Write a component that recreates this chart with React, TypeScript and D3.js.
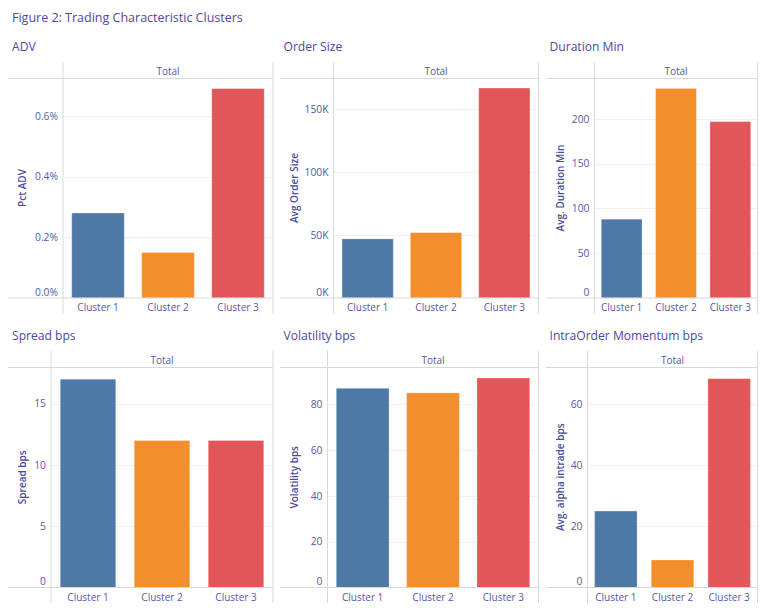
import React from 'react';
import * as d3 from 'd3';

const categories = ["Cluster 1", "Cluster 2", "Cluster 3"];
const barColors = ["#4e79a7", "#f28e2b", "#e15759"];
const figureTitle = "Figure 2: Trading Characteristic Clusters";
const headerLabel = "Total";

const panelTitles = ["ADV", "Order Size", "Duration Min", "Spread bps", "Volatility bps", "IntraOrder Momentum bps"];
const axisTitles = ["Pct ADV", "Avg Order Size", "Avg. Duration Min", "Spread bps", "Volatility bps", "Avg. alpha intrade bps"];

const advValues = [0.0028, 0.0015, 0.0069];
const orderSizeValues = [47000, 52000, 167000];
const durationValues = [88, 234, 197];
const spreadValues = [17, 12, 12];
const volatilityValues = [87, 85, 91.5];
const momentumValues = [25, 9, 68.3];

const advTicks = [0, 0.002, 0.004, 0.006];
const orderSizeTicks = [0, 50000, 100000, 150000];
const durationTicks = [0, 50, 100, 150, 200];
const spreadTicks = [0, 5, 10, 15];
const volatilityTicks = [0, 20, 40, 60, 80];
const momentumTicks = [0, 20, 40, 60];

const domainMax = [0.00725, 175000, 245.7, 18, 96.3, 72.1];

const fmtPct = (v: number) => d3.format(".1%")(v);
const fmtK = (v: number) => `${Math.round(v / 1000)}K`;
const fmtInt = (v: number) => d3.format("d")(v);

const seriesValues = [advValues, orderSizeValues, durationValues, spreadValues, volatilityValues, momentumValues];
const seriesTicks = [advTicks, orderSizeTicks, durationTicks, spreadTicks, volatilityTicks, momentumTicks];
const seriesFormats = [fmtPct, fmtK, fmtInt, fmtInt, fmtInt, fmtInt];

// layout
const rows = [
  { titleY: 47, headerTop: 62, headerLine: 78, axisY: 298, bottomExt: 314 },
  { titleY: 336, headerTop: 351, headerLine: 367, axisY: 587.5, bottomExt: 603 },
];
const colLeft = [8, 280, 546];
const colRight = [273, 538.5, 757.5];
const plotLeft = [[63, 333.5, 594.5], [51, 327.5, 587.5]];

const titleColor = "#4a4aa0";
const tickColor = "#5858a8";
const lineColor = "#d9d9d9";
const gridColor = "#f0f0f0";
const font = "'Open Sans', 'Noto Sans', sans-serif";

function Panel({ idx }: { idx: number }) {
  const r = Math.floor(idx / 3);
  const c = idx % 3;
  const row = rows[r];
  const left = colLeft[c];
  const right = colRight[c];
  const pl = plotLeft[r][c];
  const values = seriesValues[idx];
  const ticks = seriesTicks[idx];
  const fmt = seriesFormats[idx];

  const x = d3.scaleBand<string>().domain(categories).range([pl, right]).paddingInner(0.25).paddingOuter(0.125);
  const y = d3.scaleLinear().domain([0, domainMax[idx]]).range([row.axisY, row.headerLine]);

  return (
    <g>
      <text x={c === 0 ? 12 : left + 3.5} y={row.titleY} dy="0.35em" fill={titleColor} fontSize={12.1} fontFamily={font}>
        {panelTitles[idx]}
      </text>
      {ticks.filter((t) => t !== 0).map((t, i) => (
        <line key={`g${i}`} x1={pl} x2={right} y1={Math.round(y(t)) + 0.5} y2={Math.round(y(t)) + 0.5} stroke={gridColor} strokeWidth={1} />
      ))}
      {values.map((v, i) => (
        <rect
          key={`b${i}`}
          x={x(categories[i])}
          y={y(v)}
          width={x.bandwidth()}
          height={row.axisY - y(v)}
          fill={barColors[i]}
          stroke="#ffffff"
          strokeOpacity={0.25}
          strokeWidth={1}
        />
      ))}
      <line x1={left} x2={right} y1={row.headerLine + 0.5} y2={row.headerLine + 0.5} stroke={lineColor} strokeWidth={1} />
      <line x1={left} x2={right} y1={row.axisY} y2={row.axisY} stroke={lineColor} strokeWidth={1} />
      <line x1={pl} x2={pl} y1={row.headerTop} y2={row.bottomExt} stroke={lineColor} strokeWidth={1} />
      <line x1={right} x2={right} y1={row.headerTop} y2={row.bottomExt} stroke={lineColor} strokeWidth={1} />
      <text x={(pl + right) / 2} y={(row.headerTop + row.headerLine) / 2 + 1} dy="0.35em" textAnchor="middle" fill={tickColor} fontSize={10} fontFamily={font}>
        {headerLabel}
      </text>
      {ticks.map((t, i) => (
        <text key={`t${i}`} x={pl - 5} y={y(t) - (t === 0 ? 6 : 0)} dy="0.35em" textAnchor="end" fill={tickColor} fontSize={10.3} fontFamily={font}>
          {fmt(t)}
        </text>
      ))}
      {categories.map((cat, i) => (
        <text key={`c${i}`} x={(x(cat) as number) + x.bandwidth() / 2} y={row.axisY + 9.5} dy="0.35em" textAnchor="middle" fill={tickColor} fontSize={10} fontFamily={font}>
          {cat}
        </text>
      ))}
      <text
        transform={`translate(${left + 14},${(row.headerLine + row.axisY) / 2}) rotate(-90)`}
        dy="0.35em"
        textAnchor="middle"
        fill={titleColor}
        fontSize={10}
        fontWeight={600}
        fontFamily={font}
      >
        {axisTitles[idx]}
      </text>
    </g>
  );
}

export default function App() {
  return (
    <svg width={768} height={614} style={{ position: 'absolute', left: 0, top: 0, background: '#ffffff' }}>
      <rect width={768} height={614} fill="#ffffff" />
      <text x={12} y={18} dy="0.35em" fill={titleColor} fontSize={12.5} fontFamily={font}>
        {figureTitle}
      </text>
      {[0, 1, 2, 3, 4, 5].map((i) => (
        <Panel key={i} idx={i} />
      ))}
    </svg>
  );
}
